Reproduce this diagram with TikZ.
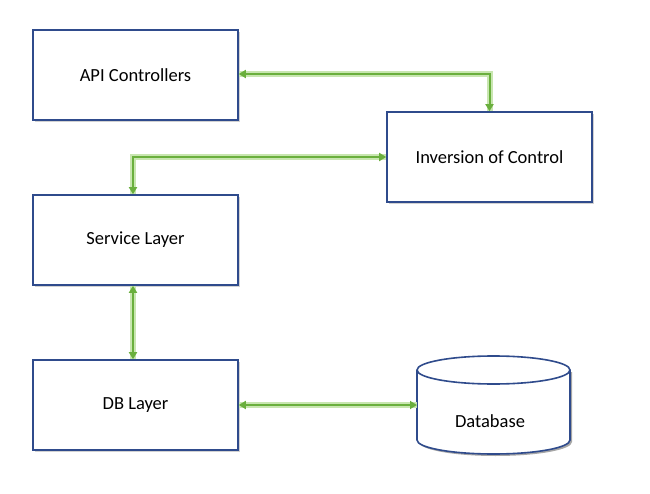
\documentclass[tikz,border=0pt]{standalone}
\usepackage{fontspec}
\setmainfont{Carlito}
\usetikzlibrary{arrows.meta,shadows}
\definecolor{bord}{HTML}{2F4B8C}
\definecolor{grn}{HTML}{6AAF3D}
\definecolor{glow}{HTML}{C8E6B0}
\tikzset{
 txt/.style={font=\fontsize{18.5pt}{22pt}\selectfont},
 box/.style={txt,draw=bord,line width=1.6pt,fill=white,minimum width=205pt,minimum height=90pt,inner sep=0pt,drop shadow={shadow xshift=2pt,shadow yshift=-2pt,fill=black!35}},
 cylb/.style={draw=bord,line width=1.6pt,fill=white},
 con/.style={draw=grn,line width=2pt,{Triangle[length=7pt,width=8pt]}-{Triangle[length=7pt,width=8pt]},preaction={draw=glow,line width=6pt,-}}
}
\begin{document}
\begin{tikzpicture}[x=1pt,y=-1pt]
\useasboundingbox (0,0) rectangle (650,494);
\node[box] (api) at (135.5,75) {API Controllers};
\node[box] (ioc) at (489.5,157) {Inversion of Control};
\node[box] (svc) at (135.5,240) {Service Layer};
\node[box] (dbl) at (135.5,405) {DB Layer};
% cylinder
\fill[black!35] (419,372) -- (419,442) arc[start angle=180,end angle=0,x radius=76.5,y radius=14] -- (572,372) -- cycle;
\draw[cylb] (417,370) -- (417,440) arc[start angle=180,end angle=0,x radius=76.5,y radius=14] -- (570,370);
\draw[cylb] (493.5,370) ellipse[x radius=76.5,y radius=14];
\coordinate (db) at (417,405);
\node[txt] (dbt) at (490,421) {Database};
\coordinate (c1) at (489.5,74);
\coordinate (c2) at (133,157);
\draw[con] (api.east |- c1) -- (c1) -- (ioc.north);
\draw[con] (ioc.west) -- (c2) -- (c2 |- svc.north);
\draw[con] (svc.south -| c2) -- (dbl.north -| c2);
\draw[con] (dbl.east) -- (db);
\end{tikzpicture}
\end{document}
